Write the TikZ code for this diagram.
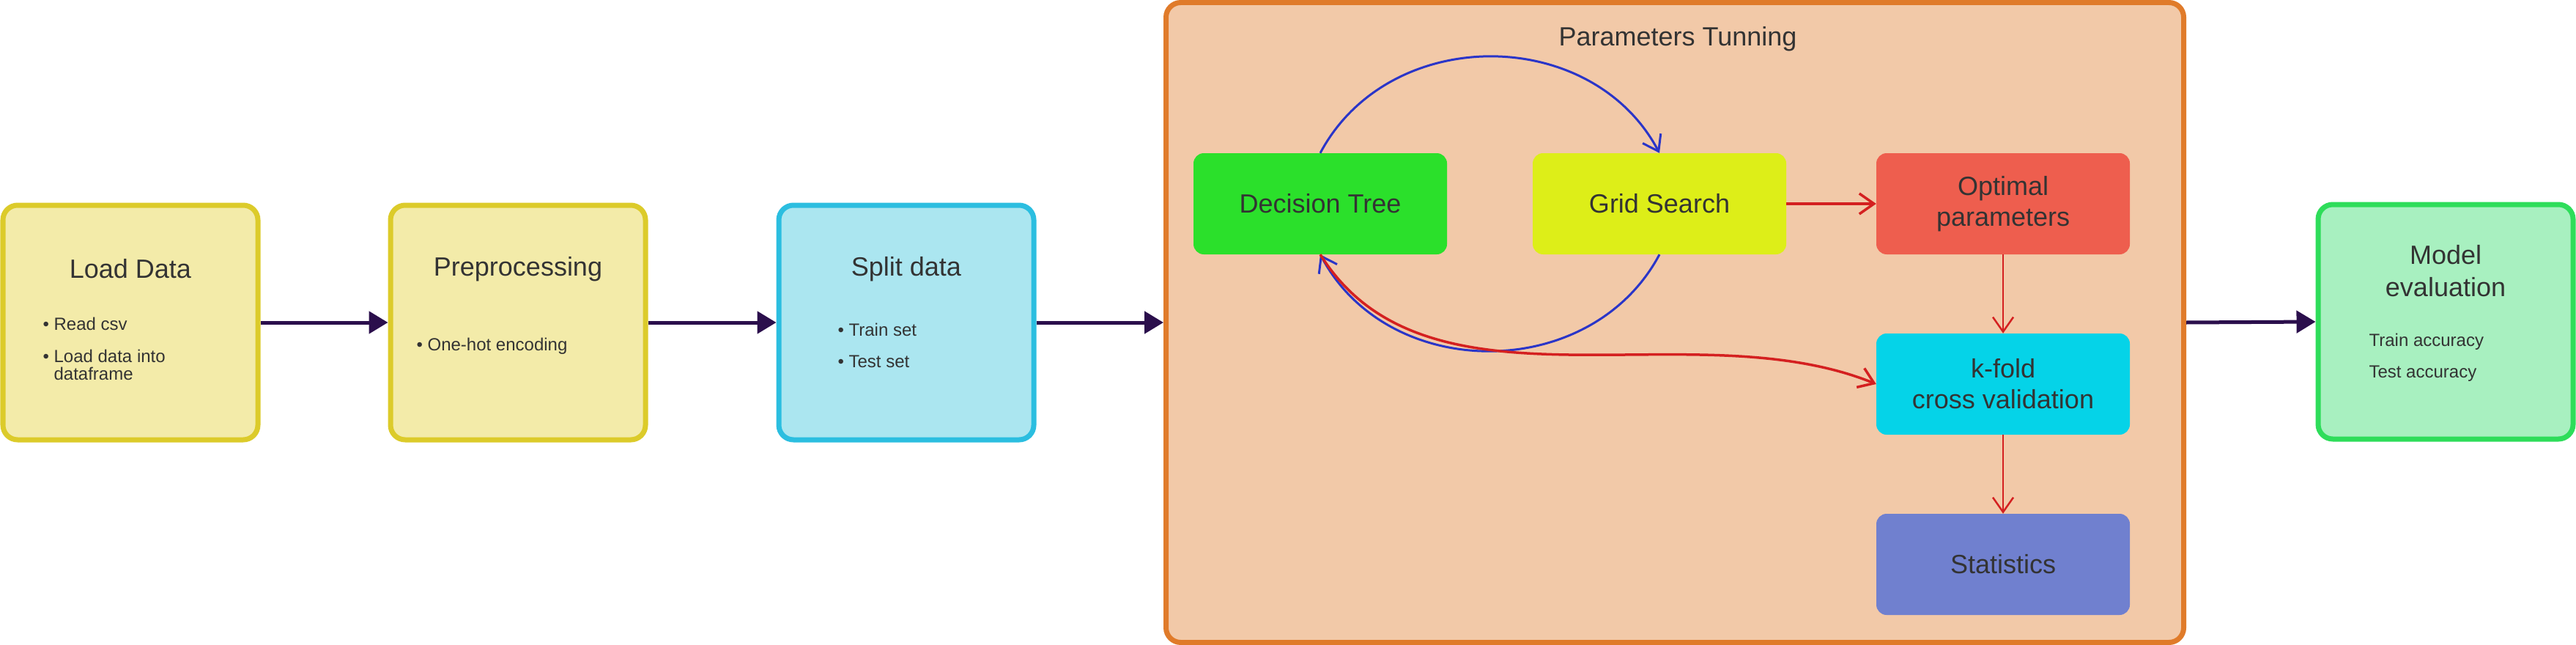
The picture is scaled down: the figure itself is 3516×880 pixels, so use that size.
\documentclass[tikz,border=0pt]{standalone}
\usepackage{fontspec}
\setmainfont{Liberation Sans}
\usetikzlibrary{arrows.meta}
\definecolor{txt}{HTML}{333333}
\definecolor{dark}{HTML}{2B0F4C}
\definecolor{ybd}{HTML}{DCCB2A}\definecolor{yfl}{HTML}{F3EBA9}
\definecolor{cbd}{HTML}{2BBEE0}\definecolor{cfl}{HTML}{ABE6F0}
\definecolor{obd}{HTML}{E07B2A}\definecolor{ofl}{HTML}{F2C9A8}
\definecolor{gbd}{HTML}{2EDD5A}\definecolor{gfl}{HTML}{A8F0C0}
\definecolor{dtc}{HTML}{2BE02B}\definecolor{gsc}{HTML}{DDEE18}
\definecolor{opc}{HTML}{EE5E4E}\definecolor{kfc}{HTML}{05D3E8}
\definecolor{stc}{HTML}{7080CF}
\definecolor{blu}{HTML}{2A35C8}\definecolor{red}{HTML}{D42020}
\begin{document}
\begin{tikzpicture}[x=1pt,y=-1pt,
  big/.style={draw,line width=7pt,rounded corners=20pt,minimum width=348pt,minimum height=320pt,inner sep=0pt},
  inner/.style={rounded corners=14pt,minimum width=346pt,minimum height=138pt,inner sep=0pt,align=center,font=\fontsize{36}{42}\selectfont,text=txt},
  ttl/.style={font=\fontsize{36}{44}\selectfont,text=txt,align=center},
  itm/.style={font=\fontsize{24}{26}\selectfont,text=txt,anchor=west,align=left},
  flow/.style={draw=dark,line width=5pt,-{Triangle[length=26pt,width=30pt]}},
  barb/.style={-{Straight Barb[length=20pt,width=28pt]}}]
\useasboundingbox (0,0) rectangle (3516,880);
% outer boxes
\node[big,draw=ybd,fill=yfl] (ld) at (178,440) {};
\node[big,draw=ybd,fill=yfl] (pp) at (707,440) {};
\node[big,draw=cbd,fill=cfl] (sd) at (1237,440) {};
\node[draw=obd,fill=ofl,line width=7pt,rounded corners=20pt,minimum width=1389pt,minimum height=873pt,inner sep=0pt] (pt) at (2286,440) {};
\node[big,draw=gbd,fill=gfl,minimum width=348pt] (me) at (3338,439) {};
% texts
\node[ttl] (ldt) at (178,367) {Load Data};
\node[itm] (ld1) at (55,442) {\textbullet\ Read csv};
\node[itm] (ld2) at (55,498) {\textbullet\ Load data into\\[-2pt]\phantom{\textbullet\ }dataframe};
\node[ttl] (ppt) at (707,367) {Preprocessing};
\node[itm] (pp1) at (565,472) {\textbullet\ One-hot encoding};
\node[ttl] (sdt) at (1237,367) {Split data};
\node[itm] (sd1) at (1140,450) {\textbullet\ Train set};
\node[itm] (sd2) at (1140,493) {\textbullet\ Test set};
\node[ttl] (ptt) at (2290,53) {Parameters Tunning};
\node[ttl,text width=340pt] (met) at (3338,370) {Model\\evaluation};
\node[itm] (me1) at (3230,466) {Train accuracy};
\node[itm] (me2) at (3230,510) {Test accuracy};
% inner nodes
\node[inner,fill=dtc] (dt) at (1802,278) {Decision Tree};
\node[inner,fill=gsc] (gs) at (2265,278) {Grid Search};
\node[inner,fill=opc] (op) at (2734,278) {Optimal\\parameters};
\node[inner,fill=kfc] (kf) at (2734,524) {k-fold\\cross validation};
\node[inner,fill=stc] (st) at (2734,770) {Statistics};
% flow arrows
\draw[flow] (ld.east) -- (pp.west);
\draw[flow] (pp.east) -- (sd.west);
\draw[flow] (sd.east) -- (pt.west);
\draw[flow] (pt.east) -- (me.west);
% inner arrows
\draw[blu,line width=3pt,barb] (dt.north) to[out=62,in=118,looseness=1.1] (gs.north);
\draw[blu,line width=3pt,barb] (gs.south) to[out=-118,in=-62,looseness=1.1] (dt.south);
\draw[red,line width=3.5pt,barb] (dt.south) to[out=-58,in=158,looseness=0.9] (kf.west);
\draw[red,line width=3.5pt,barb] (gs.east) -- (op.west);
\draw[red,line width=2.5pt,barb] (op.south) -- (kf.north);
\draw[red,line width=2.5pt,barb] (kf.south) -- (st.north);
\end{tikzpicture}
\end{document}
